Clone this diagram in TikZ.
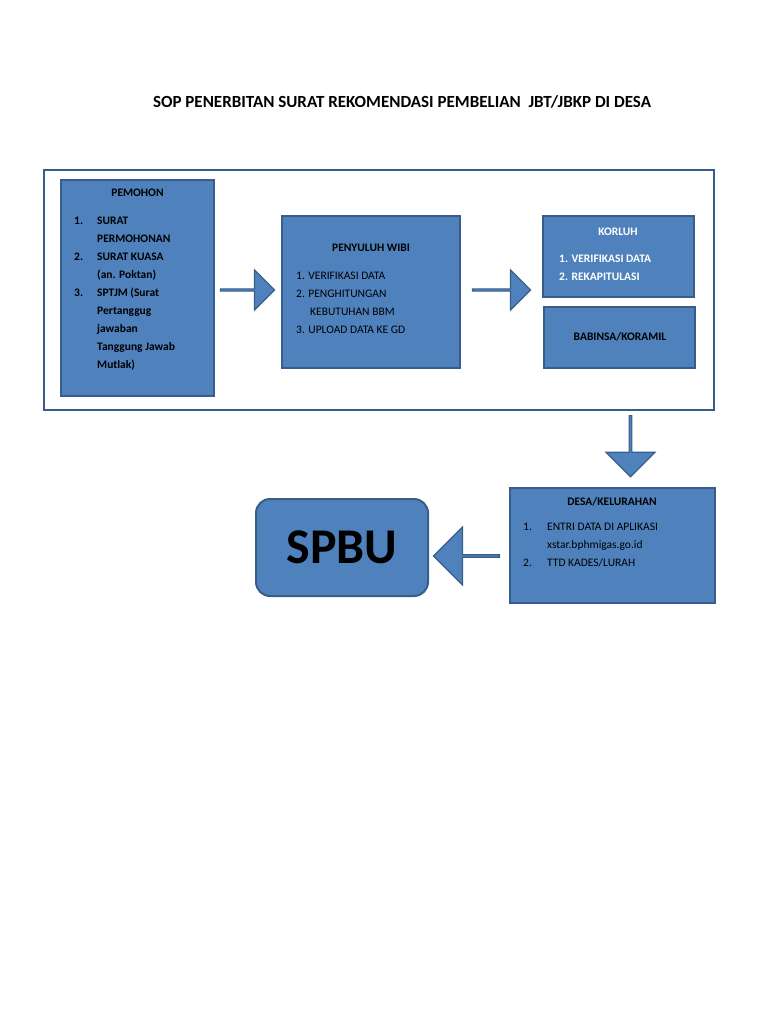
\documentclass[tikz,border=0pt]{standalone}
\usepackage{fontspec}
\setmainfont{Carlito}
\usetikzlibrary{shapes.arrows}
\definecolor{bfill}{HTML}{4F81BD}
\definecolor{bline}{HTML}{385D8A}
\begin{document}
\begin{tikzpicture}[x=1pt,y=-1pt,
  box/.style={draw=bline,line width=1.5pt,fill=bfill,inner sep=0pt},
  fat/.style={single arrow,draw=bline,line width=1.2pt,fill=bfill,inner sep=0pt,single arrow head extend=10pt,anchor=center},
  txt/.style={font=\fontsize{11.5}{18}\selectfont,align=left,anchor=north west,inner sep=0pt}]
\useasboundingbox (0,0) rectangle (768,1024);
\node[font=\bfseries\fontsize{17}{20}\selectfont] (title) at (402,102) {SOP PENERBITAN SURAT REKOMENDASI PEMBELIAN\ \ JBT/JBKP DI DESA};
\draw[bline,line width=1.5pt] (44,170) rectangle (714,410);
\path[box] (61,180) rectangle (214,396);
\node (pem) at (137.5,288) {};
\node[font=\bfseries\fontsize{11.5}{14}\selectfont] at (137.5,193) {PEMOHON};
\node[txt,font=\bfseries\fontsize{11.5}{18}\selectfont] at (74,217) {%
\makebox[23pt][l]{1.}SURAT\\ \hspace*{23pt}PERMOHONAN\\
\makebox[23pt][l]{2.}SURAT KUASA\\ \hspace*{23pt}(an. Poktan)\\
\makebox[23pt][l]{3.}SPTJM (Surat\\ \hspace*{23pt}Pertanggug\\ \hspace*{23pt}jawaban\\ \hspace*{23pt}Tanggung Jawab\\ \hspace*{23pt}Mutlak)};
\path[box] (282,216) rectangle (460,368);
\node (pen) at (371,292) {};
\node[font=\bfseries\fontsize{11.5}{14}\selectfont] at (371,248) {PENYULUH WIBI};
\node[txt] at (296,272) {1. VERIFIKASI DATA\\2. PENGHITUNGAN\\\hspace*{14pt}KEBUTUHAN BBM\\3. UPLOAD DATA KE GD};
\path[box] (543,216) rectangle (694,297);
\node (kor) at (618,256) {};
\node[font=\bfseries\fontsize{11.5}{14}\selectfont,text=white] at (618,232) {KORLUH};
\node[txt,font=\bfseries\fontsize{11.5}{18}\selectfont,text=white] at (559,255) {1. VERIFIKASI DATA\\2. REKAPITULASI};
\path[box] (544,307) rectangle (695,368);
\node[font=\bfseries\fontsize{11.5}{14}\selectfont] (bab) at (620,337) {BABINSA/KORAMIL};
\path[box] (510,488) rectangle (715,603);
\node (desa) at (612,545) {};
\node[font=\bfseries\fontsize{11.5}{14}\selectfont] at (612,502) {DESA/KELURAHAN};
\node[txt] at (523,523) {\makebox[24pt][l]{1.}ENTRI DATA DI APLIKASI\\\hspace*{24pt}xstar.bphmigas.go.id\\\makebox[24pt][l]{2.}TTD KADES/LURAH};
\node[draw=bline,line width=2pt,fill=bfill,rounded corners=14pt,minimum width=172pt,minimum height=97pt,font=\bfseries\fontsize{50}{55}\selectfont] (spbu) at (342,547.5) {SPBU};
\node[fat,minimum height=54pt,minimum width=40pt] (a1) at (247,290) {};
\node[fat,minimum height=58pt,minimum width=40pt] (a2) at (501,290) {};
\node[fat,minimum height=61pt,minimum width=49pt,shape border rotate=270] (a3) at (630.5,445.5) {};
\node[fat,minimum height=66pt,minimum width=58pt,shape border rotate=180,single arrow head extend=14pt] (a4) at (467,556) {};
\end{tikzpicture}
\end{document}
